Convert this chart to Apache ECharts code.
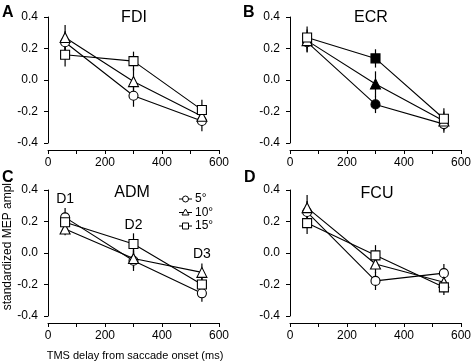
<!DOCTYPE html>
<html><head><meta charset="utf-8">
<script src="https://cdn.jsdelivr.net/npm/echarts@6/dist/echarts.min.js"></script>
<style>html,body{margin:0;padding:0;background:#fff}#c{width:474px;height:363px}</style>
</head><body><div id="c"></div>
<script>
const delays = [60, 300, 540];
const xTicks = [0, 200, 400, 600];
const yTicks = [-0.4, -0.2, 0.0, 0.2, 0.4];
const muscles = ['FDI', 'ECR', 'ADM', 'FCU'];
const panelLetters = ['A', 'B', 'C', 'D'];
const sizes = ['5°', '10°', '15°'];
const delayLabels = ['D1', 'D2', 'D3'];
const delayLabelY = [0.343, 0.178, -0.006];

// mean values per muscle and saccade size
const fdi5 = [0.24, -0.10, -0.26];
const fdi10 = [0.27, -0.01, -0.23];
const fdi15 = [0.16, 0.12, -0.19];
const ecr5 = [0.24, -0.155, -0.28];
const ecr10 = [0.25, -0.025, -0.26];
const ecr15 = [0.27, 0.137, -0.246];
const adm5 = [0.226, -0.049, -0.256];
const adm10 = [0.152, -0.035, -0.123];
const adm15 = [0.195, 0.057, -0.20];
const fcu5 = [0.26, -0.177, -0.128];
const fcu10 = [0.288, -0.07, -0.186];
const fcu15 = [0.19, -0.015, -0.218];

// error bar half-lengths
const fdi5Err = [0.07, 0.07, 0.065];
const fdi10Err = [0.08, 0.085, 0.06];
const fdi15Err = [0.075, 0.06, 0.065];
const ecr5Err = [0.065, 0.055, 0.055];
const ecr10Err = [0.07, 0.08, 0.06];
const ecr15Err = [0.07, 0.058, 0.066];
const adm5Err = [0.06, 0.065, 0.054];
const adm10Err = [0.04, 0.06, 0.057];
const adm15Err = [0.06, 0.068, 0.06];
const fcu5Err = [0.07, 0.058, 0.058];
const fcu10Err = [0.08, 0.058, 0.05];
const fcu15Err = [0.07, 0.065, 0.049];

// filled (significant) points: [panel index, delay index]
const filledPoints = [[1, 1]];

const means = [[fdi5, fdi10, fdi15], [ecr5, ecr10, ecr15], [adm5, adm10, adm15], [fcu5, fcu10, fcu15]];
const errs = [[fdi5Err, fdi10Err, fdi15Err], [ecr5Err, ecr10Err, ecr15Err], [adm5Err, adm10Err, adm15Err], [fcu5Err, fcu10Err, fcu15Err]];

const FONT = 'Liberation Sans, Arial, sans-serif';
const symbols = ['circle', 'triangle', 'rect'];
const symbolSizes = [9, 10, 9];

const grids = [
  {left: 48, top: 17, width: 171, height: 126},
  {left: 290, top: 17, width: 172, height: 126},
  {left: 48, top: 190, width: 171, height: 126},
  {left: 290, top: 190, width: 172, height: 126}
];

const xAxes = grids.map((g, i) => ({
  gridIndex: i, type: 'value', min: 0, max: 600, interval: 100, offset: 7,
  axisLine: {onZero: false, lineStyle: {color: '#000', width: 1}},
  axisTick: {show: true, length: 4, lineStyle: {color: '#000'}},
  axisLabel: {color: '#000', fontSize: 12, fontFamily: FONT, margin: 7,
    formatter: v => xTicks.indexOf(v) >= 0 ? String(v) : ''},
  splitLine: {show: false}
}));
const yAxes = grids.map((g, i) => ({
  gridIndex: i, type: 'value', min: -0.4, max: 0.4, interval: 0.2,
  axisLine: {show: true, onZero: false, lineStyle: {color: '#000', width: 1}},
  axisTick: {show: true, length: 4, lineStyle: {color: '#000'}},
  axisLabel: {color: '#000', fontSize: 12, fontFamily: FONT, margin: 10,
    formatter: v => (Math.abs(v) < 1e-9 ? 0 : v).toFixed(1)},
  splitLine: {show: false}
}));

const series = [];
means.forEach((panel, p) => {
  const errData = [];
  panel.forEach((vals, s) => vals.forEach((v, k) => errData.push([delays[k], v, errs[p][s][k]])));
  series.push({
    type: 'custom', xAxisIndex: p, yAxisIndex: p, z: 1, silent: true,
    data: errData,
    renderItem: (params, api) => {
      const x = api.value(0), y = api.value(1), e = api.value(2);
      const a = api.coord([x, y + e]), b = api.coord([x, y - e]);
      return {type: 'line', shape: {x1: a[0], y1: a[1], x2: b[0], y2: b[1]},
        style: {stroke: '#000', lineWidth: 1.2}};
    }
  });
  panel.forEach((vals, s) => {
    series.push({
      name: sizes[s], type: 'line', xAxisIndex: p, yAxisIndex: p, z: 3 + s,
      symbol: symbols[s], symbolSize: symbolSizes[s],
      lineStyle: {color: '#000', width: 1.1},
      itemStyle: {color: '#fff', borderColor: '#000', borderWidth: 1.1},
      animation: false,
      data: vals.map((v, k) => {
        const filled = filledPoints.some(f => f[0] === p && f[1] === k);
        return filled ? {value: [delays[k], v], itemStyle: {color: '#000'}} : {value: [delays[k], v]};
      })
    });
  });
});

const graphics = [];
const letterPos = [[2, 5], [243, 5], [2, 170], [244, 170]];
panelLetters.forEach((l, i) => graphics.push({type: 'text', left: letterPos[i][0], top: letterPos[i][1],
  style: {text: l, font: 'bold 16px ' + FONT, fill: '#000'}}));
const titlePos = [[134, 18], [371, 18], [132, 193], [377, 194]];
muscles.forEach((m, i) => graphics.push({type: 'text', x: titlePos[i][0], y: titlePos[i][1],
  style: {text: m, font: '16px ' + FONT, fill: '#000', textAlign: 'center', textVerticalAlign: 'middle'}}));
graphics.push({type: 'text', x: 8, y: 245, rotation: Math.PI / 2,
  style: {text: 'standardized MEP ampl.', font: '12px ' + FONT, fill: '#000', textAlign: 'center', textVerticalAlign: 'middle'}});
graphics.push({type: 'text', x: 135, y: 356,
  style: {text: 'TMS delay from saccade onset (ms)', font: '11px ' + FONT, fill: '#000', textAlign: 'center', textVerticalAlign: 'middle'}});

// legend (drawn manually: line with open marker)
const legRows = [199, 212.5, 226];
sizes.forEach((s, i) => {
  const y = legRows[i];
  graphics.push({type: 'line', shape: {x1: 179, y1: y, x2: 192, y2: y}, style: {stroke: '#000', lineWidth: 1}});
  if (i === 0) graphics.push({type: 'circle', shape: {cx: 185.5, cy: y, r: 3}, style: {fill: '#fff', stroke: '#000', lineWidth: 1}});
  if (i === 1) graphics.push({type: 'polygon', shape: {points: [[185.5, y - 3.5], [182, y + 2.5], [189, y + 2.5]]}, style: {fill: '#fff', stroke: '#000', lineWidth: 1}});
  if (i === 2) graphics.push({type: 'rect', shape: {x: 182.5, y: y - 3, width: 6, height: 6}, style: {fill: '#fff', stroke: '#000', lineWidth: 1}});
  graphics.push({type: 'text', x: 195, y: y, style: {text: s, font: '12px ' + FONT, fill: '#000', textVerticalAlign: 'middle'}});
});

const chart = echarts.init(document.getElementById('c'), null, {renderer: 'canvas'});
chart.setOption({
  backgroundColor: '#fff',
  animation: false,
  grid: grids,
  xAxis: xAxes,
  yAxis: yAxes,
  graphic: graphics,
  series: series
});

// delay labels in panel C, placed through the panel's axes
const delayGraphics = delays.map((d, k) => {
  const pt = chart.convertToPixel({xAxisIndex: 2, yAxisIndex: 2}, [d, delayLabelY[k]]);
  return {type: 'text', x: pt[0], y: pt[1], z: 100,
    style: {text: delayLabels[k], font: '14px ' + FONT, fill: '#000', textAlign: 'center', textVerticalAlign: 'middle'}};
});
chart.setOption({graphic: graphics.concat(delayGraphics)});
</script></body></html>
